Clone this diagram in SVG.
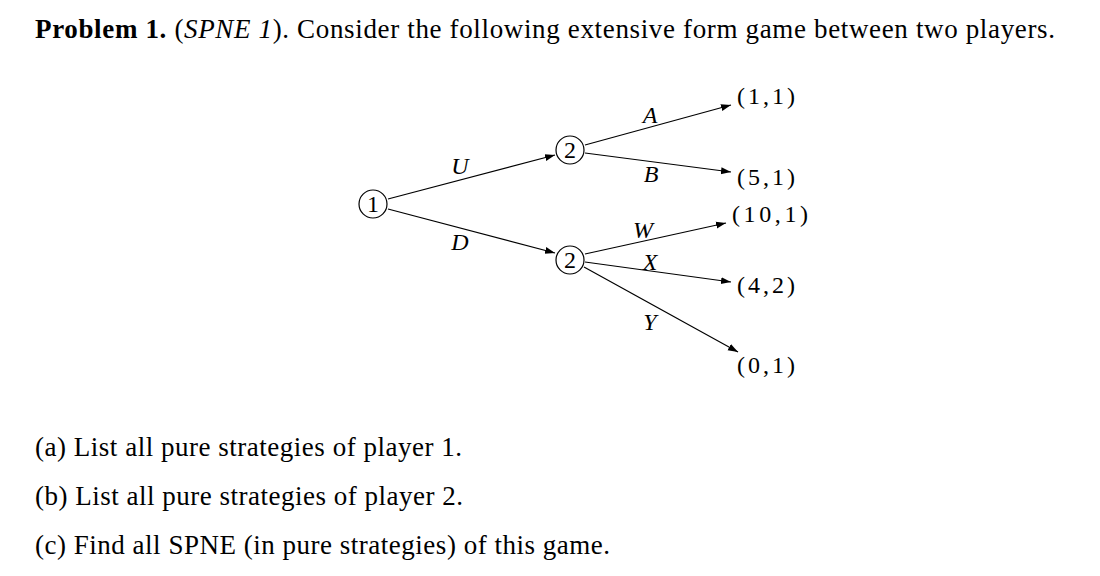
<svg xmlns="http://www.w3.org/2000/svg" width="1100" height="576" viewBox="0 0 1100 576">
<style>
text{font-family:"Liberation Serif","DejaVu Serif",serif;fill:#000}
.t{font-size:27px}
.p{font-size:24px}
.l{font-size:24px;font-style:italic;text-anchor:middle}
.n circle{fill:#fff;stroke:#000;stroke-width:1.2}
.n text{font-size:24px;text-anchor:middle}
.e line{stroke:#000;stroke-width:1.2;marker-end:url(#ar)}
</style>
<defs><marker id="ar" viewBox="0 0 10 10" refX="10" refY="5" markerWidth="10" markerHeight="10" markerUnits="userSpaceOnUse" orient="auto"><path d="M0,1.5 L10,5 L0,8.5 z"/></marker></defs>
<rect width="1100" height="576" fill="#fff"/>
<text class="t" x="35" y="38" textLength="1020"><tspan font-weight="bold">Problem 1.</tspan> (<tspan font-style="italic">SPNE 1</tspan>). Consider the following extensive form game between two players.</text>
<g class="e" id="edges">
<line x1="388" y1="199" x2="555" y2="155"/>
<line x1="388" y1="209" x2="555" y2="253"/>
<line x1="585" y1="145" x2="731" y2="105"/>
<line x1="585" y1="153" x2="731" y2="172"/>
<line x1="585" y1="254" x2="726" y2="223"/>
<line x1="585" y1="262" x2="731" y2="282"/>
<line x1="584" y1="267" x2="738" y2="352"/>
</g>
<g class="n" id="n1"><circle cx="373" cy="204" r="14"/><text x="373" y="212">1</text></g>
<g class="n" id="n2"><circle cx="570" cy="150" r="14"/><text x="570" y="158">2</text></g>
<g class="n" id="n3"><circle cx="570" cy="260" r="14"/><text x="570" y="268">2</text></g>
<g id="labels">
<text class="l" x="460" y="174">U</text>
<text class="l" x="460" y="250">D</text>
<text class="l" x="650" y="123">A</text>
<text class="l" x="651" y="182">B</text>
<text class="l" x="643" y="238">W</text>
<text class="l" x="650" y="270">X</text>
<text class="l" x="650" y="330">Y</text>
<text class="p" x="737" y="104" textLength="58">(1,1)</text>
<text class="p" x="737" y="185" textLength="58">(5,1)</text>
<text class="p" x="732" y="222" textLength="76">(10,1)</text>
<text class="p" x="737" y="293" textLength="58">(4,2)</text>
<text class="p" x="737" y="373" textLength="58">(0,1)</text>
</g>
<text class="t" x="35" y="456" textLength="427">(a) List all pure strategies of player 1.</text>
<text class="t" x="35" y="505" textLength="428">(b) List all pure strategies of player 2.</text>
<text class="t" x="35" y="554" textLength="575">(c) Find all SPNE (in pure strategies) of this game.</text>
</svg>
